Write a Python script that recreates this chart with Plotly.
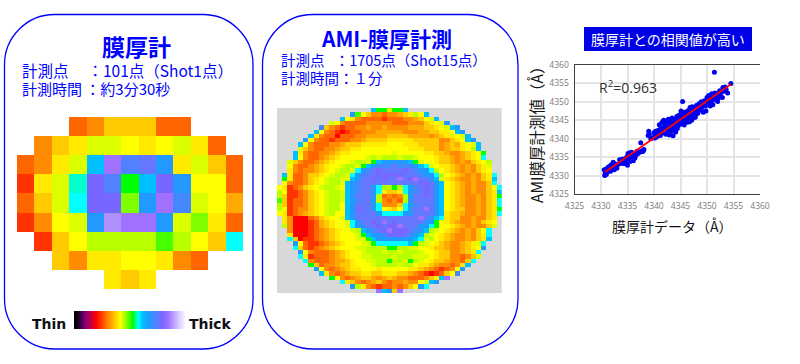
import plotly.graph_objects as go

W, H = 800, 364
JP = "Noto Sans CJK JP"
BLUE = "#0000FF"

LEVELS = {"r": 20, "R": 24, "o": 28, "O": 31, "a": 34, "A": 37, "y": 40, "Y": 42, "l": 43.5, "L": 45,
          "h": 47.5, "g": 50, "G": 53, "k": 57, "c": 58, "C": 62, "b": 68, "B": 72, "n": 74, "v": 77,
          "V": 79, "p": 85, "P": 88}

COLOR_STOPS = [(0, "#000000"), (0.03, "#100010"), (0.1, "#800080"), (0.2, "#FF0000"), (0.3, "#FF8000"),
               (0.42, "#FFFF00"), (0.53, "#00FF00"), (0.58, "#00FFFF"), (0.62, "#00BFFF"), (0.68, "#2299FF"),
               (0.72, "#4488FF"), (0.77, "#6677FF"), (0.79, "#7766FF"), (0.85, "#A070FF"), (0.88, "#B090FF"),
               (0.95, "#DCCFFF"), (1, "#F8F4FF")]

POINT_MAP_ROWS = [
    "...oOAAAoo...",
    ".OAyllYyYlyo.",
    "oOylCpnvbylAo",
    "RylkVnGCVbYYo",
    "oAlcVVhbpBlYa",
    "ROYlbPppblhyo",
    ".RAYLLLLgLYAc",
    "..AOyyYYyOo..",
    ".....yAy.....",
]

WAFER_MAP_ROWS = [
    "CGGlGGC",
    "bgYAOOoOOaAyLYC",
    "CYyOooooRoooOOaAYlC",
    "lYOooooOOOOOoooOOOAyYlb",
    "BAOoRooOOaOOaOOOOaaaAAyYlCb",
    "CYOoRrRooOOOaaaaaOOOaaAAyyYCb",
    "CyOooroooOOaaaaAAAAaaaaOaAyyYlC",
    "bYOooRoooOOaAAAAyyyyyAAAAAOOAyYCb",
    "CYOoooOOaAAAyyyyyYYYyyyAAAAOaAayYlC",
    "lAOooOOaAAyyYYYYYYYYYyyyAAAOaAAyYLC",
    "CyOooOOaAyyYYYYYYYYlYYYYYyyAAaOOaAyYG",
    "CYOooOaAyYYYYYlLlLLLlLLlYYYyAAaOaAyYc",
    "lAOooOaAyYYYlLLl" + "GCbbbbbCG" + "lYYyAAaOaOAyYL",
    "YOooOaAyYYlLLl" + "GCbBBBvBBBbCc" + "lYyyAaOaOAyl",
    "yOoOOaAyYlLLl" + "cbBvVvvvvVvBbbc" + "LYyAaOaOAyY",
    "CyooOAAyYlLLl" + "cbBvvVVVVVvvvBbbc" + "LYyAaOaOAyc",
    "GyooOAyYlLLll" + "CbvvVvVvvpvVpvvbC" + "lyAaOOaOAyC",
    "YOooOAyYlLLl" + "CbBvvvvvvvvvvvVVvbC" + "YyAaOaOOAc",
    "YyRoOAyYlLLlY" + "CbBvvbcLLGLcbBvVvbC" + "YyAaOaOOAYc",
    "LYRRoOAyYlLLl" + "CbBvvbcyAAycbBvVvbC" + "YyAaOaOOAyC",
    "LARRoOAyYlLLl" + "CbvvvbLoOoOLbvvVvbC" + "YyAaOOaOAyG",
    "gARooOAyYlLLl" + "CbBvvbLOoOoLbvvvvbC" + "YyAaOOaOAyc",
    "LARooOAyYlLLY" + "CbvvvbcOOOAcbBvvvbC" + "YyAaOOaOAyc",
    "LYRoOOAyYlLLY" + "CbVvvbcYyAYcbvvpvbC" + "YyAAOOaOAyG",
    "YyRoOaAyYlLYY" + "CbvvvvbccccbbvvvvbC" + "yAAaOOaOAyc",
    "yOrrroOAyYYl" + "CbvvvvvvvvvvvvpvbCc" + "yAAOOaOOAy",
    "yOrrrRoaAyYYl" + "cbvvVvpvVvvvvvbbG" + "YyAaOOaOAyY",
    "LOrrrRoaAyYYl" + "cbBvvVvVVpvvvbbcG" + "YYyAaOaOOAl",
    "OrrrRoOaAyYYl" + "LCbBvVpVVVvBbCL" + "lYyAaOaOAYc",
    "yrrrRoOaAyYYYl" + "GCbbBVVVvBbCL" + "lYyAaOOaOAyc",
    "cArRRoOaAyYYYll" + "GCbbbbbbbCc" + "lLYyAaOOaOAyC",
    "bYoRRoOaAyYYYll" + "GccccccCG" + "LlYyAaOOaAylc",
    "cAoRoOaAyYYYllLLLLGGLLllYYyAAaOOaAyYb",
    "bYOoooOaAyYYlLLLlLLlLLLlYYyAAOOaAyc",
    "cyRoooOaAyYYllLLLLlLLLlllYyAAOOoOAl",
    "cOoooOaaAyYYllLLGLLlGLlYyAAaOOoAc",
    "GAoOOaAAyYYYlLLLLlLLYyyAaOOoOyC",
    "bYOoOaAyyYYYyYYYYYyyAaOoRoOYb",
    "CyOoOaAAyyAAyyyAAaOoRrRoAYB",
    "GYOoOaAAaOaAaOOoooOAyCp",
    "cyAOoOaAOoOOaOOYlCb",
    "bLyOoRooOoOAYbc",
    "pCbAp",
]

REF_THICKNESS = [
    4330.6, 4330.7, 4330.8, 4330.9, 4331.0, 4331.1, 4331.2, 4331.4, 4331.5, 4331.7, 4331.8, 4332.0,
    4332.2, 4332.3, 4332.5, 4332.6, 4332.8, 4333.0, 4333.2, 4333.5, 4333.7, 4334.0, 4334.2, 4334.4,
    4334.5, 4334.7, 4334.9, 4335.0, 4335.1, 4335.2, 4335.3, 4335.4, 4335.5, 4335.6, 4335.8, 4336.0,
    4336.1, 4336.2, 4336.4, 4336.6, 4336.8, 4337.0, 4337.3, 4337.5, 4337.6, 4337.9, 4338.1, 4338.0,
    4338.9, 4339.0, 4339.1, 4339.4, 4339.6, 4339.9, 4340.0, 4340.2, 4340.3, 4340.5, 4340.6, 4340.8,
    4341.0, 4341.0, 4341.2, 4341.3, 4341.5, 4341.6, 4341.7, 4341.8, 4342.0, 4342.0, 4342.2, 4342.3,
    4342.4, 4342.5, 4342.6, 4342.7, 4342.8, 4342.9, 4343.0, 4343.0, 4343.2, 4343.3, 4343.4, 4343.5,
    4343.6, 4343.7, 4343.8, 4343.9, 4344.0, 4344.1, 4344.2, 4344.3, 4344.4, 4344.5, 4344.6, 4344.7,
    4344.8, 4344.1, 4345.0, 4345.1, 4345.2, 4345.3, 4345.4, 4345.5, 4345.6, 4345.7, 4345.8, 4345.9,
    4346.0, 4346.1, 4346.2, 4346.3, 4346.4, 4346.5, 4346.6, 4346.7, 4346.8, 4346.9, 4347.0, 4347.1,
    4347.2, 4347.3, 4347.4, 4347.5, 4347.6, 4347.7, 4347.8, 4347.9, 4348.0, 4348.1, 4348.2, 4348.3,
    4348.5, 4348.7, 4348.9, 4349.0, 4349.2, 4349.3, 4349.5, 4349.7, 4349.8, 4350.0, 4350.1, 4350.3,
    4350.4, 4350.6, 4350.7, 4350.9, 4351.0, 4351.1, 4351.3, 4351.4, 4351.5, 4351.6, 4351.8, 4352.0,
    4352.1, 4352.2, 4352.4, 4352.5, 4352.7, 4352.9, 4353.0, 4353.2, 4353.4, 4353.6, 4353.9, 4354.5,
    4343.1, 4343.6, 4344.0, 4344.4, 4344.9, 4345.3, 4345.6, 4346.1, 4346.5, 4346.9, 4347.3, 4347.7,
    4342.2, 4342.8, 4345.0, 4345.8, 4346.3, 4347.0, 4347.5, 4348.1, 4341.4, 4343.9, 4344.6, 4346.8,
]
AMI_THICKNESS = [
    4331.6, 4330.0, 4330.6, 4331.2, 4330.3, 4331.9, 4331.0, 4332.3, 4331.5, 4332.6, 4331.2, 4333.0,
    4332.2, 4333.6, 4331.6, 4333.2, 4332.7, 4332.0, 4333.0, 4334.3, 4333.3, 4334.4, 4333.3, 4334.5,
    4334.0, 4333.2, 4335.1, 4332.8, 4336.0, 4334.4, 4335.5, 4336.2, 4333.8, 4335.0, 4336.3, 4335.4,
    4334.0, 4335.9, 4334.8, 4335.5, 4336.6, 4336.0, 4336.3, 4338.9, 4336.6, 4336.5, 4337.1, 4336.9,
    4340.9, 4342.0, 4341.2, 4340.0, 4340.2, 4340.3, 4341.6, 4340.2, 4342.0, 4341.2, 4340.6, 4342.3,
    4341.9, 4343.8, 4340.9, 4343.0, 4344.4, 4341.6, 4342.6, 4345.0, 4343.4, 4344.3, 4341.2, 4342.7,
    4344.9, 4343.8, 4342.2, 4345.3, 4344.1, 4341.0, 4343.0, 4345.0, 4344.4, 4342.0, 4345.6, 4343.4,
    4340.8, 4344.7, 4342.6, 4345.2, 4343.9, 4341.8, 4344.4, 4346.0, 4342.8, 4345.0, 4343.6, 4346.4,
    4344.2, 4342.4, 4345.4, 4347.5, 4344.0, 4346.2, 4350.1, 4345.0, 4347.2, 4343.7, 4346.0, 4344.8,
    4347.0, 4345.3, 4346.3, 4344.5, 4347.6, 4345.8, 4346.9, 4344.6, 4348.5, 4346.2, 4347.5, 4345.0,
    4348.7, 4346.7, 4345.6, 4347.8, 4346.4, 4348.3, 4345.8, 4347.2, 4349.0, 4346.8, 4348.0, 4347.0,
    4349.5, 4347.8, 4350.0, 4348.4, 4349.1, 4347.2, 4350.3, 4348.9, 4347.5, 4351.2, 4349.8, 4351.7,
    4350.0, 4348.9, 4351.0, 4352.2, 4350.4, 4349.2, 4351.4, 4358.0, 4352.4, 4350.7, 4351.8, 4350.1,
    4352.3, 4351.1, 4353.0, 4351.7, 4352.6, 4351.2, 4353.9, 4352.9, 4354.0, 4353.4, 4352.4, 4355.0,
    4343.9, 4344.2, 4345.0, 4344.9, 4345.6, 4345.5, 4346.5, 4346.8, 4347.2, 4347.0, 4347.9, 4348.0,
    4344.0, 4343.0, 4344.6, 4345.1, 4347.4, 4346.0, 4346.9, 4347.6, 4342.2, 4343.2, 4345.9, 4347.1,
]
FIT_X = [4330.8, 4354.5]
FIT_Y = [4331.0, 4354.8]
SCATTER_TICKS = [4325, 4330, 4335, 4340, 4345, 4350, 4355, 4360]


def to_levels(rows, width):
    grid = []
    for row in rows:
        cells = row.center(width, ".")[:width]
        grid.append([LEVELS.get(ch) for ch in cells])
    return grid


def xf(px):
    return px / W


def yf(px):
    return 1 - px / H


def rounded(x0, y0, x1, y1, r):
    k = r * 0.45
    pts = [
        f"M{xf(x0 + r)},{yf(y0)}", f"L{xf(x1 - r)},{yf(y0)}",
        f"C{xf(x1 - k)},{yf(y0)} {xf(x1)},{yf(y0 + k)} {xf(x1)},{yf(y0 + r)}",
        f"L{xf(x1)},{yf(y1 - r)}",
        f"C{xf(x1)},{yf(y1 - k)} {xf(x1 - k)},{yf(y1)} {xf(x1 - r)},{yf(y1)}",
        f"L{xf(x0 + r)},{yf(y1)}",
        f"C{xf(x0 + k)},{yf(y1)} {xf(x0)},{yf(y1 - k)} {xf(x0)},{yf(y1 - r)}",
        f"L{xf(x0)},{yf(y0 + r)}",
        f"C{xf(x0)},{yf(y0 + k)} {xf(x0 + k)},{yf(y0)} {xf(x0 + r)},{yf(y0)}", "Z",
    ]
    return dict(type="path", path=" ".join(pts), xref="paper", yref="paper",
                line=dict(color=BLUE, width=1.3), layer="below")


def label(px, py, text, size, color=BLUE, bold=False, anchor="left", family=JP, angle=0):
    t = f"<b>{text}</b>" if bold else text
    return dict(x=xf(px), y=yf(py), xref="paper", yref="paper", text=t, showarrow=False, textangle=angle,
                xanchor=anchor, yanchor="middle", align=anchor, font=dict(family=family, size=size, color=color))


fig = go.Figure()

fig.add_trace(go.Heatmap(z=to_levels(POINT_MAP_ROWS, 13), coloraxis="coloraxis", xaxis="x", yaxis="y",
                         hoverongaps=False))
fig.add_trace(go.Heatmap(z=to_levels(WAFER_MAP_ROWS, 43), coloraxis="coloraxis", xaxis="x2", yaxis="y2",
                         hoverongaps=False))
fig.add_trace(go.Scatter(x=REF_THICKNESS, y=AMI_THICKNESS, mode="markers", xaxis="x3", yaxis="y3",
                         marker=dict(color="#0000F0", size=5)))
fig.add_trace(go.Scatter(x=FIT_X, y=FIT_Y, mode="lines", xaxis="x3", yaxis="y3",
                         line=dict(color="#FF0000", width=1.8)))


def hidden(domain, rng, anchor):
    return dict(domain=domain, range=rng, visible=False, anchor=anchor, fixedrange=True)


scatter_axis = dict(range=[4325, 4360], tickvals=SCATTER_TICKS, showgrid=True, gridcolor="#E4E4E4", gridwidth=1.5,
                    zeroline=False, showline=True, linecolor="#404040", linewidth=1, ticks="",
                    tickfont=dict(family="Open Sans", size=8.5, color="#7A7A7A"), fixedrange=True)

fig.update_layout(
    width=W, height=H, margin=dict(l=0, r=0, t=0, b=0, autoexpand=False), showlegend=False,
    paper_bgcolor="white", plot_bgcolor="rgba(0,0,0,0)",
    coloraxis=dict(cmin=0, cmax=100, colorscale=COLOR_STOPS,
                   colorbar=dict(orientation="h", x=xf(74), xanchor="left", y=yf(329), yanchor="bottom",
                                 len=111, lenmode="pixels", thickness=18, thicknessmode="pixels",
                                 xpad=0, ypad=0, outlinewidth=0, showticklabels=False, ticks="")),
    xaxis=hidden([xf(17), xf(243)], [-0.5, 12.5], "y"),
    yaxis=hidden([yf(289), yf(117)], [8.5, -0.5], "x"),
    xaxis2=hidden([xf(277), xf(501.7)], [-0.5, 42.5], "y2"),
    yaxis2=hidden([yf(293), yf(108)], [42.5, -0.5], "x2"),
    xaxis3=dict(domain=[xf(574.5), xf(760)], anchor="y3", mirror=True, ticklabelstandoff=4, **scatter_axis),
    yaxis3=dict(domain=[yf(194), yf(65)], anchor="x3", ticklabelstandoff=3, **scatter_axis),
    shapes=[
        rounded(4.5, 14.5, 253, 349, 50),
        rounded(262.5, 14.5, 518, 349, 50),
        dict(type="rect", xref="paper", yref="paper", x0=xf(277), x1=xf(501.7), y0=yf(293), y1=yf(108),
             fillcolor="#D8D8D8", line=dict(width=0), layer="below"),
        dict(type="rect", xref="paper", yref="paper", x0=xf(584), x1=xf(752), y0=yf(51), y1=yf(27),
             fillcolor="#0000E6", line=dict(width=0), layer="below"),
    ],
    annotations=[
        label(136, 46, "膜厚計", 23, bold=True, anchor="center"),
        label(19.5, 70, "計測点　 ：101点（Shot1点）", 15.5),
        label(19.5, 88, "計測時間 ：約3分30秒", 15),
        label(386, 38, "AMI-膜厚計測", 21, bold=True, anchor="center"),
        label(279, 60, "計測点\u2002\u2009：1705点（Shot15点）", 14.5),
        label(279, 77, "計測時間：１分", 14.5),
        label(668, 39, "膜厚計との相関値が高い", 14, color="white", anchor="center"),
        label(597, 87, "R<sup>2</sup>=0.963", 14, color="#303030", family="Open Sans"),
        label(672, 226, "膜厚計データ（Å）", 14, color="#151515", anchor="center"),
        label(536, 131, "AMI膜厚計測値（Å）", 15.5, color="#151515", anchor="center", angle=-90),
        label(30, 324, "Thin", 14, color="#101010", bold=True, family="DejaVu Sans"),
        label(187, 324, "Thick", 14, color="#101010", bold=True, family="DejaVu Sans"),
    ],
)

fig.write_html("out.html", config={"displayModeBar": False},
               post_script="document.body.style.margin='0';document.body.style.overflow='hidden';")
